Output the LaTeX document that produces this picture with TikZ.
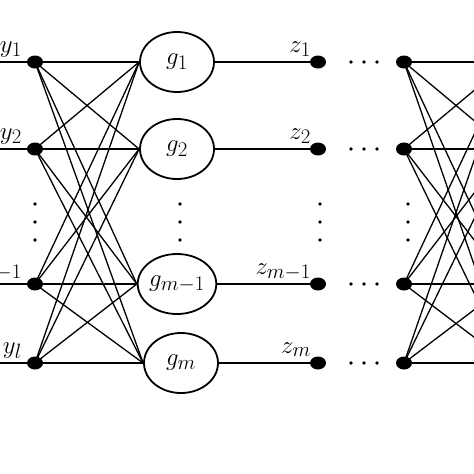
\documentclass[tikz,border=0pt]{standalone}
\usepackage{amsmath}
\usepackage{amssymb}
\usepackage{tikz}
\usetikzlibrary{shapes.geometric}

\begin{document}
\begin{tikzpicture}[x=1pt,y=-1pt,
    unit/.style={draw,line width=1.8pt,ellipse,minimum width=74pt,minimum height=60pt,inner sep=0pt,font=\fontsize{30}{34}\selectfont},
    dot/.style={fill,ellipse,minimum width=16pt,minimum height=13pt,inner sep=0pt},
    lbl/.style={font=\fontsize{28}{32}\selectfont,inner sep=1pt},
    wire/.style={line width=1.3pt}]
    \useasboundingbox (0,0) rectangle (474,474);
    \clip (0,0) rectangle (474,474);
    % layers: inputs, units, outputs, next inputs, next units
    \foreach \n/\yy/\gx/\t/\s in {1/62/177/1/1,2/149/177/2/2,m1/284/177/{m-1}/{m-1},m/363/181/m/l}{
        \node[dot] (y\n) at (35,\yy) {};
        \node[unit] (g\n) at (\gx,\yy) {$g_{\t}$};
        \node[dot] (z\n) at (318,\yy) {};
        \node[dot] (r\n) at (404,\yy) {};
        \node[unit] (h\n) at (546,\yy) {};
        \coordinate (in\n) at (-20,\yy);
        \node[lbl,anchor=base east] (ly\n) at (23,\yy-10) {$y_{\s}$};
        \node[lbl,anchor=base east] (lz\n) at (312,\yy-10) {$z_{\t}$};
        \draw[wire] (in\n) -- (y\n.center);
        \draw[wire] (g\n.east) -- (z\n.center);
        \foreach \x in {351,364,377} \fill (\x,\yy) circle (1.8);
    }
    % full connections
    \foreach \a in {1,2,m1,m}
        \foreach \b in {1,2,m1,m}{
            \draw[wire] (y\a.center) -- (g\b.west);
            \draw[wire] (r\a.center) -- (h\b.west);
        }
    % vertical dots
    \foreach \x in {35,180,320,408}
        \foreach \yy in {204,222,240} \fill (\x,\yy) circle (1.8);
\end{tikzpicture}
\end{document}
